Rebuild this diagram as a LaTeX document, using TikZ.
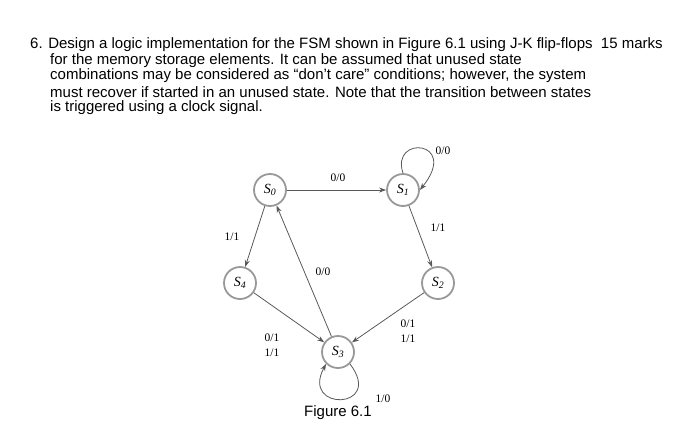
\documentclass[tikz,border=0pt]{standalone}
\usepackage{fontspec}
\usetikzlibrary{arrows.meta}
\setmainfont{Liberation Sans}
\newfontfamily\serifx{Liberation Serif}
\begin{document}
\begin{tikzpicture}[x=1pt,y=-1pt,
  st/.style={circle,draw=gray!80,line width=1.8pt,minimum size=32pt,inner sep=0pt,font=\serifx\itshape\fontsize{14}{14}\selectfont},
  ed/.style={draw=gray!70!black,line width=0.8pt,-{Stealth[length=7pt,width=5pt]}},
  lb/.style={font=\serifx\fontsize{11.5}{11.5}\selectfont},
  tx/.style={anchor=west,font=\fontsize{15}{15}\selectfont,inner sep=0pt}]
\useasboundingbox (0,0) rectangle (700,442);
\node[tx] (t1) at (30,45) {6. Design a logic implementation for the FSM shown in Figure 6.1 using J-K flip-flops\ \ 15 marks};
\node[tx] (t2) at (50,61) {for the memory storage elements. It can be assumed that unused state};
\node[tx] (t3) at (50,76) {combinations may be considered as “don’t care” conditions; however, the system};
\node[tx] (t4) at (50,92) {must recover if started in an unused state. Note that the transition between states};
\node[tx] (t5) at (50,108) {is triggered using a clock signal.};
\node[st] (s0) at (270,190) {S\textsubscript{0}};
\node[st] (s1) at (403,190) {S\textsubscript{1}};
\node[st] (s4) at (240,283) {S\textsubscript{4}};
\node[st] (s2) at (438,283) {S\textsubscript{2}};
\node[st] (s3) at (338,352) {S\textsubscript{3}};
\draw[ed] (s0) -- (s1);
\draw[ed] (s1) -- (s2);
\draw[ed] (s0) -- (s4);
\draw[ed] (s3) -- (s0);
\draw[ed] (s4) -- (s3);
\draw[ed] (s2) -- (s3);
\draw[ed] (s1.north) .. controls (390,135) and (460,140) .. (s1.east);
\draw[ed] (s3.south east) .. controls (385,410) and (300,412) .. (s3.south west);
\node[lb] (l1) at (338,178) {0/0};
\node[lb] (l2) at (443,151) {0/0};
\node[lb] (l3) at (438,228) {1/1};
\node[lb] (l4) at (232,237) {1/1};
\node[lb] (l5) at (323,272) {0/0};
\node[lb,align=center] (l6) at (272,345) {0/1\\[3pt]1/1};
\node[lb,align=center] (l7) at (408,331) {0/1\\[3pt]1/1};
\node[lb] (l8) at (383,399) {1/0};
\node[font=\fontsize{15}{15}\selectfont] (fig) at (338,413) {Figure 6.1};
\end{tikzpicture}
\end{document}
